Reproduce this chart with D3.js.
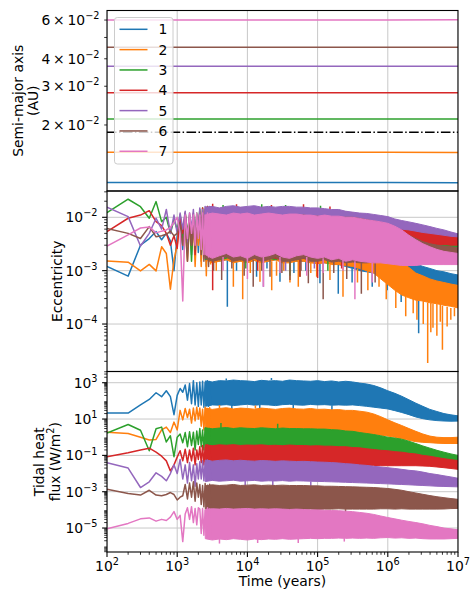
<!DOCTYPE html>
<html><head><meta charset="utf-8">
<script src="https://cdn.jsdelivr.net/npm/d3@7/dist/d3.min.js"></script>
<style>html,body{margin:0;padding:0;background:#fff}svg{display:block}</style>
</head><body>
<svg id="chart" width="476" height="596" font-family="DejaVu Sans, sans-serif"></svg>
<script>
// ---------------- DATA ----------------
const planets = ["1","2","3","4","5","6","7"];
const planetColors = ["#1f77b4","#ff7f0e","#2ca02c","#d62728","#9467bd","#8c564b","#e377c2"];

// semi-major axis (AU)
const axisTimes = [1e2, 1e6, 1e7];
const semiMajor1 = [0.01095, 0.01095, 0.01092];
const semiMajor2 = [0.01504, 0.01504, 0.01500];
const semiMajor3 = [0.0213, 0.0213, 0.0213];
const semiMajor4 = [0.0280, 0.0280, 0.0280];
const semiMajor5 = [0.0370, 0.0370, 0.0370];
const semiMajor6 = [0.0451, 0.0451, 0.0451];
const semiMajor7 = [0.0600, 0.0600, 0.0602];
const referenceSemiMajor = 0.01854;

// early (resolved) part of the evolution, years
const earlyTimes = [100,200,300,400,500,600,700,800,900,1000,1100,1200,1300,1400,1500,1600,1700,1800,1900,2000,2100,2200,2300,2400,2500,2600,2700,2800,2900,3000];
const eccEarly1 = [1.2e-3,7.9e-4,3.0e-3,4.0e-3,5.4e-3,3.8e-3,5.0e-3,3.6e-3,1.0e-3,4.5e-3,8e-3,2.5e-3,9e-3,3e-3,1.0e-2,2e-3,8e-3,3.5e-3,1.1e-2,2.2e-3,9e-3,1.5e-3,1.0e-2,2e-3,8e-3,1.2e-3,9.5e-3,2.5e-3,1.0e-2,1.8e-3];
const eccEarly2 = [1.52e-3,1.44e-3,9.9e-4,1.31e-3,9.9e-4,2.8e-3,2.1e-3,4.5e-4,1.6e-3,3.0e-3,1.0e-2,3e-3,8e-3,1.5e-3,9e-3,2.5e-3,1.1e-2,1.2e-3,7e-3,3e-3,8e-3,1.2e-3,1.0e-2,2e-3,9e-3,8e-4,1.0e-2,1.5e-3,9e-3,1.3e-3];
const eccEarly3 = [1.22e-2,2.18e-2,1.58e-2,9.6e-3,1.97e-2,8.3e-3,1.0e-2,5e-3,9e-3,6e-3,1.1e-2,4e-3,1.2e-2,5e-3,1.1e-2,1.5e-3,1.0e-2,4e-3,1.2e-2,6e-3,1.4e-2,3e-3,1.5e-2,2.5e-3,1.3e-2,4e-3,1.6e-2,2e-3,1.4e-2,3e-3];
const eccEarly4 = [5.4e-3,9.6e-3,1.1e-2,1.33e-2,8.3e-3,7e-3,5e-3,3e-3,4.5e-3,2.6e-3,1.1e-2,5e-3,1.2e-2,4e-3,1.0e-2,3e-3,1.2e-2,2e-3,9e-3,5e-3,1.3e-2,2.5e-3,1.5e-2,3e-3,1.4e-2,2e-3,1.6e-2,3.5e-3,1.4e-2,2.5e-3];
const eccEarly5 = [1.55e-2,1.03e-2,2.9e-3,5e-3,9.6e-3,6e-3,1.4e-2,5e-3,1.1e-2,5e-3,1.2e-2,6e-3,1.3e-2,3.5e-3,1.2e-2,6e-3,1.4e-2,3e-3,1.1e-2,6e-3,1.5e-2,3e-3,1.4e-2,4e-3,1.6e-2,2.5e-3,1.5e-2,3.5e-3,1.6e-2,3e-3];
const eccEarly6 = [6.2e-3,5e-3,4.0e-3,6.7e-3,4.3e-3,4.5e-3,4.8e-3,5.5e-3,4.5e-3,5e-3,8e-3,3e-3,7e-3,1.5e-3,9e-3,3e-3,8e-3,2.5e-3,1.0e-2,4e-3,1.0e-2,2e-3,1.1e-2,1.5e-3,9e-3,2.5e-3,1.1e-2,1.2e-3,1.0e-2,2e-3];
const eccEarly7 = [2.9e-3,4.7e-3,6.3e-3,6.6e-3,5.1e-3,5.5e-3,5.8e-3,6.5e-3,8e-3,1.0e-2,5e-3,2.7e-4,1.1e-2,4e-3,1.2e-2,5e-3,1.1e-2,3e-3,1.2e-2,4e-3,1.1e-2,2.5e-3,1.2e-2,2e-3,1.1e-2,3e-3,1.2e-2,1.8e-3,1.15e-2,2.2e-3];

const tidalEarly1 = [21.5,21.5,60,120,280,170,360,170,17.4,200,480,300,750,110,900,70,1300,60,1000,50,1100,60,1200,45,1000,70,1300,50,1150,55];
const tidalEarly2 = [1.9,1.6,1.0,0.7,0.75,2.5,3.6,1.8,6.8,2.5,30,9,38,12,35,6,40,8,45,10,40,4,35,2.5,45,6,38,3,42,2.5];
const tidalEarly3 = [1.7,5.0,2.4,0.18,2.9,3.6,0.55,1.2,0.085,1.0,1.5,0.5,1.8,0.3,2.0,0.35,1.9,0.2,2.2,0.4,3,0.3,2.5,0.2,3.2,0.4,2.8,0.25,3,0.3];
const tidalEarly4 = [0.085,0.14,0.2,0.25,0.15,0.09,0.05,0.014,0.03,0.08,0.18,0.05,0.22,0.04,0.2,0.05,0.25,0.03,0.2,0.06,0.3,0.04,0.35,0.03,0.28,0.05,0.38,0.035,0.32,0.04];
const tidalEarly5 = [0.04,0.02,1.7e-3,3.5e-3,0.011,7e-3,4e-3,0.01,0.03,0.01,0.06,5e-3,0.03,3e-3,0.04,4e-3,0.03,2e-3,0.035,5e-3,0.045,5e-3,0.05,4e-3,0.04,6e-3,0.055,4.5e-3,0.05,5e-3];
const tidalEarly6 = [1.35e-3,8e-4,6.5e-4,1.2e-3,6.5e-4,6e-4,7e-4,9e-4,7e-4,3.5e-4,5e-4,6e-4,2.5e-3,4e-4,3e-3,5e-4,3.5e-3,3e-4,3e-3,5e-4,2.5e-3,2e-4,2.2e-3,1.5e-4,2.8e-3,2.5e-4,2.3e-3,1.2e-4,2.6e-3,2e-4];
const tidalEarly7 = [9e-6,1.8e-5,3.2e-5,3.6e-5,2.4e-5,3e-5,2.6e-5,4e-5,8e-5,3e-5,5e-5,1.8e-6,6e-5,1.3e-4,3e-5,1.5e-4,2e-5,1.2e-4,1.5e-5,1.3e-4,1.1e-4,5e-6,1.2e-4,4e-6,1e-4,6e-6,1.3e-4,3e-6,1.1e-4,4e-6];

// fast-oscillation part: upper / lower envelope read at these times (years)
const bandTimes = [2510,3160,3980,5010,6310,7940,1e4,1.26e4,1.58e4,2e4,2.51e4,3.16e4,3.98e4,5.01e4,6.31e4,7.94e4,1e5,1.26e5,1.58e5,2e5,2.51e5,3.16e5,3.98e5,5.01e5,6.31e5,7.94e5,1e6,1.26e6,1.58e6,2e6,2.51e6,3.16e6,3.98e6,5.01e6,6.31e6,7.94e6,1e7];

const eccHigh1 = [9.5e-3,1.0e-2,9.5e-3,1.0e-2,9.5e-3,1.0e-2,9.5e-3,1.0e-2,9.5e-3,1.0e-2,9.5e-3,1.0e-2,9.5e-3,1.0e-2,9.5e-3,9.5e-3,9e-3,9e-3,8.5e-3,8.5e-3,8e-3,7.5e-3,7e-3,6.5e-3,6e-3,5e-3,4e-3,3e-3,1.6e-3,1.4e-3,1.35e-3,1.2e-3,1.1e-3,1.0e-3,9.5e-4,8.8e-4,8.3e-4];
const eccLow1  = [1.6e-3,1.5e-3,1.5e-3,1.6e-3,1.5e-3,1.5e-3,1.5e-3,1.55e-3,1.5e-3,1.5e-3,1.6e-3,1.5e-3,1.5e-3,1.5e-3,1.5e-3,1.45e-3,1.4e-3,1.4e-3,1.35e-3,1.3e-3,1.2e-3,1.1e-3,1.0e-3,9.5e-4,9e-4,8.5e-4,8e-4,7.5e-4,7e-4,6.8e-4,6.5e-4,6.3e-4,6e-4,5.8e-4,5.6e-4,5.5e-4,5.4e-4];
const eccHigh2 = [9e-3,1.0e-2,9e-3,1.0e-2,9e-3,1.0e-2,9e-3,1.0e-2,9e-3,1.0e-2,9e-3,1.0e-2,9e-3,9.5e-3,9e-3,9e-3,8.5e-3,8.5e-3,8e-3,8e-3,7.5e-3,7e-3,6.5e-3,6e-3,5.5e-3,4.5e-3,3.5e-3,2.2e-3,1.4e-3,1.15e-3,9e-4,8e-4,7e-4,6.4e-4,6e-4,5.6e-4,5.3e-4];
const eccLow2  = [1.6e-3,1.4e-3,1.5e-3,1.6e-3,1.4e-3,1.5e-3,1.4e-3,1.55e-3,1.4e-3,1.5e-3,1.6e-3,1.4e-3,1.4e-3,1.5e-3,1.5e-3,1.4e-3,1.35e-3,1.4e-3,1.3e-3,1.3e-3,1.25e-3,1.2e-3,1.1e-3,1.0e-3,9e-4,7e-4,5.5e-4,4.3e-4,3.5e-4,3.1e-4,2.8e-4,2.7e-4,2.5e-4,2.4e-4,2.25e-4,2.15e-4,2.0e-4];
const eccHigh3 = [1.4e-2,1.5e-2,1.45e-2,1.45e-2,1.4e-2,1.5e-2,1.45e-2,1.45e-2,1.4e-2,1.5e-2,1.45e-2,1.45e-2,1.4e-2,1.45e-2,1.4e-2,1.4e-2,1.35e-2,1.35e-2,1.3e-2,1.3e-2,1.25e-2,1.2e-2,1.1e-2,1.05e-2,1e-2,9e-3,8.5e-3,7.5e-3,6.5e-3,5.8e-3,5e-3,4.5e-3,4.2e-3,4e-3,3.8e-3,3.7e-3,3.6e-3];
const eccLow3  = [1.6e-3,1.8e-3,1.6e-3,1.7e-3,1.9e-3,1.6e-3,1.7e-3,1.8e-3,1.6e-3,1.7e-3,1.6e-3,1.8e-3,1.7e-3,1.6e-3,1.7e-3,1.7e-3,1.6e-3,1.7e-3,1.7e-3,1.8e-3,1.8e-3,1.9e-3,2e-3,2e-3,2e-3,2.1e-3,2.1e-3,2.1e-3,2.1e-3,2.1e-3,2.1e-3,2.1e-3,2.1e-3,2.1e-3,2.1e-3,2.1e-3,2.1e-3];
const eccHigh4 = [1.5e-2,1.45e-2,1.45e-2,1.5e-2,1.45e-2,1.5e-2,1.45e-2,1.45e-2,1.5e-2,1.45e-2,1.45e-2,1.5e-2,1.45e-2,1.45e-2,1.45e-2,1.4e-2,1.4e-2,1.35e-2,1.35e-2,1.3e-2,1.25e-2,1.2e-2,1.15e-2,1.1e-2,1.05e-2,1e-2,9.5e-3,8.5e-3,7.8e-3,7e-3,6.5e-3,6e-3,5.6e-3,5.2e-3,4.9e-3,4.6e-3,4.4e-3];
const eccLow4  = [1.8e-3,1.6e-3,1.7e-3,1.9e-3,1.7e-3,1.6e-3,1.8e-3,1.7e-3,1.6e-3,1.8e-3,1.7e-3,1.6e-3,1.8e-3,1.7e-3,1.7e-3,1.7e-3,1.8e-3,1.8e-3,1.9e-3,2e-3,2.2e-3,2.5e-3,2.6e-3,2.8e-3,2.9e-3,3e-3,3.1e-3,3.2e-3,3.3e-3,3.3e-3,3.3e-3,3.2e-3,3.2e-3,3.1e-3,3.1e-3,3.0e-3,3.0e-3];
const eccHigh5 = [1.55e-2,1.6e-2,1.5e-2,1.6e-2,1.65e-2,1.55e-2,1.6e-2,1.65e-2,1.55e-2,1.6e-2,1.55e-2,1.6e-2,1.6e-2,1.55e-2,1.55e-2,1.5e-2,1.5e-2,1.45e-2,1.4e-2,1.4e-2,1.3e-2,1.25e-2,1.2e-2,1.18e-2,1.13e-2,1.08e-2,1.03e-2,9.3e-3,8.7e-3,8.2e-3,7.7e-3,7.2e-3,6.7e-3,6.2e-3,5.8e-3,5.3e-3,4.9e-3];
const eccLow5  = [2.2e-3,2e-3,2.1e-3,2e-3,2.2e-3,2.1e-3,2e-3,2.1e-3,2.2e-3,2e-3,2.1e-3,2e-3,2.2e-3,2.1e-3,2.2e-3,2.2e-3,2.3e-3,2.5e-3,2.7e-3,2.8e-3,3e-3,3.2e-3,3.5e-3,4e-3,5e-3,6e-3,6.5e-3,6.3e-3,6e-3,5.8e-3,5.5e-3,5.2e-3,5e-3,4.8e-3,4.6e-3,4.4e-3,4.3e-3];
const eccHigh6 = [1.1e-2,1.05e-2,1.1e-2,1.05e-2,1.1e-2,1.05e-2,1.1e-2,1.05e-2,1.1e-2,1.05e-2,1.1e-2,1.05e-2,1.1e-2,1.05e-2,1.1e-2,1.05e-2,1.05e-2,1.0e-2,1.0e-2,1.0e-2,1.0e-2,1.0e-2,9.5e-3,9e-3,8.5e-3,8e-3,7.5e-3,6.5e-3,5.5e-3,4.6e-3,4e-3,3.5e-3,3.2e-3,3e-3,2.9e-3,2.8e-3,2.7e-3];
const eccLow6  = [1.7e-3,1.5e-3,1.6e-3,1.8e-3,1.5e-3,1.6e-3,1.5e-3,1.7e-3,1.5e-3,1.6e-3,1.8e-3,1.5e-3,1.5e-3,1.6e-3,1.7e-3,1.5e-3,1.5e-3,1.6e-3,1.45e-3,1.5e-3,1.4e-3,1.45e-3,1.4e-3,1.4e-3,1.45e-3,1.5e-3,1.55e-3,1.6e-3,1.65e-3,1.7e-3,1.7e-3,1.7e-3,1.65e-3,1.65e-3,1.6e-3,1.6e-3,1.6e-3];
const eccHigh7 = [1.1e-2,1.2e-2,1.15e-2,1.1e-2,1.2e-2,1.15e-2,1.2e-2,1.1e-2,1.15e-2,1.2e-2,1.15e-2,1.1e-2,1.15e-2,1.15e-2,1.1e-2,1.1e-2,1.05e-2,1.1e-2,1.05e-2,1.05e-2,1.0e-2,1.0e-2,9.5e-3,9e-3,8.6e-3,8.2e-3,7.7e-3,6.8e-3,5.8e-3,4.6e-3,3.8e-3,3.2e-3,2.8e-3,2.5e-3,2.3e-3,2.2e-3,2.1e-3];
const eccLow7  = [2.0e-3,1.7e-3,1.9e-3,2.1e-3,1.8e-3,1.9e-3,1.7e-3,2.0e-3,1.8e-3,1.9e-3,2.1e-3,1.8e-3,1.7e-3,1.9e-3,2.0e-3,1.8e-3,1.7e-3,1.8e-3,1.6e-3,1.7e-3,1.5e-3,1.6e-3,1.5e-3,1.45e-3,1.4e-3,1.4e-3,1.35e-3,1.3e-3,1.25e-3,1.25e-3,1.25e-3,1.3e-3,1.3e-3,1.3e-3,1.3e-3,1.3e-3,1.3e-3];

// isolated excursions (deep minima / high maxima): [time, from, to]
const eccSpikes1 = [[5180,1.6e-3,2.1e-4],[7000,1.6e-3,1.0e-3],[13500,1.6e-3,7.7e-4],[19000,1.6e-3,1.1e-3],[29100,1.6e-3,6.2e-4],[46000,1.6e-3,9e-4],[68000,1.5e-3,1.0e-3],[1.08e5,1.5e-3,5.8e-4],[1.97e5,1.3e-3,3.7e-4],[3.1e5,1.1e-3,6e-4],[6.0e5,9e-4,5e-4],[9.8e5,8e-4,4.3e-4],[1.55e6,7e-4,2.6e-4],[2.2e6,6.5e-4,3.5e-4],[2.75e6,6.3e-4,6.7e-5],[3.5e6,6e-4,3e-4],[5.5e6,5.6e-4,3.5e-4]];
const eccSpikes2 = [[3600,1.5e-3,1e-3],[6310,1.5e-3,5e-4],[8570,1.5e-3,2.9e-4],[11000,1.5e-3,9e-4],[15100,1.5e-3,6.2e-4],[22200,1.5e-3,4.3e-4],[26000,1.5e-3,8e-4],[33000,1.5e-3,1e-3],[40400,1.5e-3,6e-4],[53100,1.5e-3,5e-4],[80000,1.4e-3,9e-4],[97000,1.4e-3,7.7e-4],[1.5e5,1.3e-3,6.7e-4],[2.3e5,1.25e-3,3.25e-4],[3.7e5,1.1e-3,6e-4],[5.2e5,1e-3,4.3e-4],[7.5e5,8e-4,5e-4],[9.5e5,6e-4,2.9e-4],[1.3e6,4.5e-4,2e-4],[1.8e6,3.5e-4,1.4e-4],[2.3e6,3e-4,1.6e-4],[2.6e6,2.8e-4,1.2e-4],[3.2e6,2.7e-4,1e-4],[3.7e6,2.5e-4,1.86e-5],[4.1e6,2.5e-4,7e-5],[4.4e6,2.4e-4,8.5e-5],[5.0e6,2.4e-4,6e-5],[5.6e6,2.3e-4,1.1e-4],[6.0e6,2.2e-4,3.3e-5],[7.0e6,2.1e-4,9e-5],[7.9e6,2e-4,1.2e-4],[8.9e6,2e-4,1.4e-4]];
const eccSpikes3 = [[4500,1.4e-2,1.7e-2],[1.6e4,1.4e-2,1.75e-2],[3.5e4,1.4e-2,1.7e-2],[1.1e5,1.3e-2,1.65e-2],[9500,1.7e-3,1.1e-3],[40400,1.7e-3,8e-4],[56100,1.7e-3,7.7e-4],[1.4e5,1.7e-3,1.0e-3]];
const eccSpikes4 = [[3200,1.4e-2,1.8e-2],[7000,1.4e-2,1.75e-2],[2.2e4,1.4e-2,1.7e-2],[6.3e4,1.4e-2,1.75e-2],[1.5e5,1.3e-2,1.6e-2],[3200,1.7e-3,4.3e-4],[14000,1.7e-3,1.0e-3],[56100,1.7e-3,7.7e-4],[1.0e5,1.7e-3,7.3e-4],[2.2e5,1.9e-3,1.1e-3]];
const eccSpikes5 = [[16900,2e-3,5e-4],[35000,2e-3,1.0e-3],[9e4,2e-3,1.1e-3]];
const eccSpikes6 = [[3300,1.6e-3,1.0e-3],[4300,1.6e-3,6.7e-4],[6000,1.6e-3,1.1e-3],[9000,1.6e-3,8e-4],[12100,1.6e-3,5e-4],[16000,1.6e-3,1.0e-3],[21000,1.6e-3,7.7e-4],[31000,1.6e-3,9e-4],[40400,1.6e-3,6.7e-4],[58000,1.6e-3,1.0e-3],[73800,1.6e-3,5.8e-4],[1.2e5,1.6e-3,2.9e-4],[1.7e5,1.5e-3,9e-4],[2.6e5,1.5e-3,7e-4],[4.2e5,1.5e-3,3.7e-4],[6.6e5,1.5e-3,6e-4]];
const eccSpikes7 = [[4500,1.8e-3,1.0e-3],[1e4,1.8e-3,7e-4],[16900,1.8e-3,5e-4],[29100,1.8e-3,9e-4],[7e4,1.8e-3,8e-4],[1.2e5,1.7e-3,9e-4],[2.3e5,1.6e-3,1.0e-3],[3.4e5,1.5e-3,2.9e-4],[6e5,1.4e-3,6e-4]];

const tidalHigh1 = [1250,1100,1300,1250,1400,1300,1250,1150,1350,1250,1300,1200,1400,1300,1250,1200,1300,1150,1250,1100,1200,1100,950,850,700,520,360,260,180,115,75,50,34,26,20,17,15];
const tidalLow1  = [50,60,58,62,55,60,65,58,62,60,55,62,65,60,58,64,60,62,58,60,58,60,55,50,45,40,36,29,23,17.5,13,10.5,9,8.2,7.8,7.6,7.7];
const tidalHigh2 = [40,34,38,42,36,40,38,35,40,37,34,38,40,36,35,38,34,35,32,33,30,30,27,24,19,13.5,9,6.2,4.4,3,2.1,1.5,1.15,1.0,0.95,0.95,1.0];
const tidalLow2  = [1.8,2.0,1.9,1.8,2.0,2.1,1.9,1.8,2.0,1.9,2.0,1.9,1.8,2.0,1.9,1.9,1.8,1.9,1.8,1.8,1.7,1.7,1.6,1.5,1.4,1.3,1.15,1.0,0.82,0.67,0.57,0.52,0.5,0.47,0.45,0.45,0.45];
const tidalHigh3 = [3.3,2.9,3.2,3.4,3.0,3.3,3.1,3.0,3.3,3.1,2.9,3.2,3.0,3.0,2.9,2.9,2.8,2.8,2.6,2.5,2.2,2.1,1.8,1.6,1.4,1.2,1.0,0.9,0.78,0.6,0.45,0.33,0.25,0.19,0.15,0.12,0.1];
const tidalLow3  = [0.13,0.12,0.13,0.13,0.14,0.13,0.13,0.13,0.14,0.13,0.14,0.13,0.14,0.13,0.14,0.13,0.14,0.13,0.14,0.14,0.14,0.14,0.13,0.13,0.12,0.12,0.11,0.1,0.09,0.08,0.066,0.057,0.05,0.045,0.04,0.037,0.035];
const tidalHigh4 = [0.38,0.34,0.38,0.36,0.39,0.35,0.37,0.36,0.38,0.35,0.36,0.34,0.37,0.35,0.35,0.33,0.34,0.32,0.32,0.3,0.3,0.27,0.26,0.23,0.21,0.19,0.18,0.16,0.15,0.13,0.12,0.1,0.09,0.076,0.066,0.058,0.052];
const tidalLow4  = [0.032,0.029,0.031,0.03,0.032,0.03,0.031,0.03,0.032,0.03,0.031,0.03,0.032,0.03,0.031,0.03,0.031,0.03,0.03,0.03,0.03,0.029,0.029,0.028,0.028,0.027,0.027,0.027,0.027,0.027,0.027,0.026,0.025,0.023,0.021,0.019,0.017];
const tidalHigh5 = [0.055,0.048,0.053,0.056,0.05,0.054,0.05,0.048,0.052,0.05,0.047,0.05,0.048,0.046,0.047,0.045,0.043,0.042,0.04,0.038,0.035,0.033,0.03,0.028,0.025,0.023,0.021,0.019,0.017,0.015,0.014,0.012,0.01,0.0088,0.0075,0.0065,0.0055];
const tidalLow5  = [3.6e-3,4.2e-3,3.8e-3,4e-3,4.3e-3,3.8e-3,4e-3,4.2e-3,3.8e-3,4e-3,3.9e-3,4.1e-3,3.8e-3,4e-3,3.9e-3,3.8e-3,3.7e-3,3.6e-3,3.5e-3,3.4e-3,3.3e-3,3.2e-3,3.1e-3,3e-3,2.9e-3,2.8e-3,2.7e-3,2.6e-3,2.5e-3,2.4e-3,2.3e-3,2.2e-3,2.1e-3,2.0e-3,1.95e-3,1.9e-3,1.85e-3];
const tidalHigh6 = [2.1e-3,2.4e-3,2.2e-3,2.3e-3,2.5e-3,2.2e-3,2.3e-3,2.4e-3,2.2e-3,2.3e-3,2.2e-3,2.3e-3,2.2e-3,2.2e-3,2.2e-3,2.1e-3,2.1e-3,2.0e-3,2.0e-3,1.95e-3,1.9e-3,1.85e-3,1.8e-3,1.75e-3,1.7e-3,1.6e-3,1.5e-3,1.35e-3,1.2e-3,1e-3,8.5e-4,7.2e-4,6.1e-4,5.3e-4,4.7e-4,4.2e-4,3.8e-4];
const tidalLow6  = [1.1e-4,9.5e-5,1.05e-4,1e-4,1.1e-4,1e-4,9.5e-5,1.05e-4,1e-4,1.05e-4,1e-4,1.05e-4,1e-4,1.05e-4,1.05e-4,1.1e-4,1.05e-4,1.1e-4,1.1e-4,1.15e-4,1.1e-4,1.1e-4,1.1e-4,1.1e-4,1.1e-4,1.15e-4,1.15e-4,1.1e-4,1.15e-4,1.1e-4,1.1e-4,1.1e-4,1.1e-4,1.1e-4,1.12e-4,1.18e-4,1.2e-4];
const tidalHigh7 = [1.05e-4,1.15e-4,1.1e-4,1.2e-4,1.1e-4,1.15e-4,1.2e-4,1.1e-4,1.15e-4,1.1e-4,1.15e-4,1.1e-4,1.05e-4,1.1e-4,1.05e-4,1.0e-4,1.0e-4,9.5e-5,9.2e-5,9e-5,8.5e-5,8e-5,7.2e-5,6.5e-5,5.6e-5,4.6e-5,3.8e-5,3.2e-5,2.7e-5,2.3e-5,2e-5,1.7e-5,1.4e-5,1.2e-5,1e-5,9e-6,8e-6];
const tidalLow7  = [2.6e-6,2.2e-6,2.5e-6,2.3e-6,2.6e-6,2.4e-6,2.2e-6,2.5e-6,2.3e-6,2.5e-6,2.4e-6,2.6e-6,2.4e-6,2.5e-6,2.6e-6,2.7e-6,2.6e-6,2.7e-6,2.7e-6,2.8e-6,2.7e-6,2.8e-6,2.7e-6,2.8e-6,2.7e-6,2.9e-6,3e-6,2.8e-6,2.9e-6,2.7e-6,2.8e-6,2.6e-6,2.5e-6,2.5e-6,2.5e-6,2.6e-6,2.7e-6];

const tidalSpikes1 = [[6000,60,22],[1.5e4,60,25],[4.5e4,60,28],[1.6e5,58,30],[5000,1300,1700],[2.2e4,1400,1800]];
const tidalSpikes2 = [[3500,1.9,0.9],[1.1e4,1.9,1.0],[7e4,1.8,1.1],[4000,38,60],[1.3e4,38,55]];
const tidalSpikes3 = [[4200,3,6],[2.7e4,3,5.5]];
const tidalSpikes4 = [[3300,0.03,0.015],[2e4,0.03,0.017]];
const tidalSpikes5 = [[9300,4e-3,1.1e-3],[2.3e4,4e-3,1.2e-3],[8e4,3.8e-3,1.5e-3]];
const tidalSpikes6 = [[12000,1e-4,5.6e-5],[32000,1e-4,5.6e-5],[2.5e5,1.1e-4,6e-5]];
const tidalSpikes7 = [[4000,2.5e-6,1.4e-6],[14000,2.5e-6,1.5e-6],[53000,2.5e-6,1.5e-6],[2.4e5,2.7e-6,1.8e-6]];

// ticks
const xTickValues = [1e2,1e3,1e4,1e5,1e6,1e7];
const xTickExps = [2,3,4,5,6,7];
const aTickValues = [0.02,0.03,0.04,0.06];
const aTickMantissas = ["2","3","4","6"];
const eTickValues = [1e-2,1e-3,1e-4];
const eTickExps = [-2,-3,-4];
const fTickValues = [1e3,1e1,1e-1,1e-3,1e-5];
const fTickExps = [3,1,-1,-3,-5];

// ---------------- LAYOUT ----------------
const FS = 13.9;
const svg = d3.select("#chart");
const x = d3.scaleLog().domain([1e2,1e7]).range([107,458]);
const panels = [
  {top:10.5, bottom:191, domain:[0.01002,0.0663]},
  {top:191, bottom:371.5, domain:[1.29e-5,0.0311]},
  {top:371.5, bottom:552, domain:[4.8e-7,4140]}
];
panels.forEach(p => p.y = d3.scaleLog().domain(p.domain).range([p.bottom, p.top]));
const semiMajor = [semiMajor1,semiMajor2,semiMajor3,semiMajor4,semiMajor5,semiMajor6,semiMajor7];
const eccEarly = [eccEarly1,eccEarly2,eccEarly3,eccEarly4,eccEarly5,eccEarly6,eccEarly7];
const eccHigh = [eccHigh1,eccHigh2,eccHigh3,eccHigh4,eccHigh5,eccHigh6,eccHigh7];
const eccLow = [eccLow1,eccLow2,eccLow3,eccLow4,eccLow5,eccLow6,eccLow7];
const eccSpikes = [eccSpikes1,eccSpikes2,eccSpikes3,eccSpikes4,eccSpikes5,eccSpikes6,eccSpikes7];
const tidalEarly = [tidalEarly1,tidalEarly2,tidalEarly3,tidalEarly4,tidalEarly5,tidalEarly6,tidalEarly7];
const tidalHigh = [tidalHigh1,tidalHigh2,tidalHigh3,tidalHigh4,tidalHigh5,tidalHigh6,tidalHigh7];
const tidalLow = [tidalLow1,tidalLow2,tidalLow3,tidalLow4,tidalLow5,tidalLow6,tidalLow7];
const tidalSpikes = [tidalSpikes1,tidalSpikes2,tidalSpikes3,tidalSpikes4,tidalSpikes5,tidalSpikes6,tidalSpikes7];

const defs = svg.append("defs");
panels.forEach((p,i) => {
  defs.append("clipPath").attr("id","clip"+i).append("rect")
    .attr("x",x.range()[0]).attr("y",p.top).attr("width",x.range()[1]-x.range()[0]).attr("height",p.bottom-p.top);
});

function minorValues(domain){
  const out=[]; const lo=Math.floor(Math.log10(domain[0])), hi=Math.ceil(Math.log10(domain[1]));
  for(let n=lo;n<=hi;n++) for(let k=2;k<=9;k++){ const v=k*Math.pow(10,n); if(v>=domain[0]*1.0001 && v<=domain[1]/1.0001) out.push(v); }
  return out;
}
function sciText(g, px, py, anchor, mant, exp){
  const t = g.append("text").attr("x",px).attr("y",py).attr("text-anchor",anchor).attr("font-size",FS).attr("fill","#000");
  t.append("tspan").text(mant ? mant+"\u2009\u00d7\u200910" : "10");
  t.append("tspan").attr("font-size",FS*0.7).attr("dy",-FS*0.42).text(String(exp).replace("-","\u2212"));
  return t;
}

// grids
panels.forEach((p,i) => {
  const g = svg.append("g").attr("clip-path","url(#clip"+i+")");
  xTickValues.forEach(v => g.append("line").attr("x1",x(v)).attr("x2",x(v)).attr("y1",p.top).attr("y2",p.bottom)
     .attr("stroke","#c8c8c8").attr("stroke-width",1));
  const yMaj = i===1 ? eTickValues : (i===2 ? fTickValues : []);
  yMaj.forEach(v => g.append("line").attr("x1",x.range()[0]).attr("x2",x.range()[1]).attr("y1",p.y(v)).attr("y2",p.y(v))
     .attr("stroke","#c8c8c8").attr("stroke-width",1));
});

// panel 1: semi-major axis
{
  const p = panels[0];
  const g = svg.append("g").attr("clip-path","url(#clip0)");
  const line = d3.line().x(d=>x(d[0])).y(d=>p.y(d[1]));
  semiMajor.forEach((s,k) => {
    g.append("path").attr("d", line(axisTimes.map((t,j)=>[t,s[j]]))).attr("fill","none")
      .attr("stroke",planetColors[k]).attr("stroke-width",1.5);
  });
  g.append("path").attr("d", line([[1e2,referenceSemiMajor],[1e7,referenceSemiMajor]])).attr("fill","none")
    .attr("stroke","#000").attr("stroke-width",1.5).attr("stroke-dasharray","9.6,2.4,1.5,2.4");
}

// panels 2 & 3: early line + band + excursions
function drawEvolution(pi, early, high, low, spikes){
  const p = panels[pi];
  const g = svg.append("g").attr("clip-path","url(#clip"+pi+")");
  const line = d3.line().x(d=>x(d[0])).y(d=>p.y(d[1]));
  const area = d3.area().x(d=>x(d[0])).y0(d=>p.y(d[1])).y1(d=>p.y(d[2]));
  planets.forEach((name,k) => {
    const c = planetColors[k];
    const band = bandTimes.map((t,j)=>[t, low[k][j], high[k][j]]).filter(d=>d[1]!=null && d[2]!=null);
    g.append("path").attr("d", area(band)).attr("fill",c).attr("stroke",c).attr("stroke-width",1).attr("stroke-linejoin","round");
    g.append("path").attr("d", line(earlyTimes.map((t,j)=>[t, early[k][j]]))).attr("fill","none")
      .attr("stroke",c).attr("stroke-width",1.5).attr("stroke-linejoin","round");
    spikes[k].forEach(s => {
      g.append("line").attr("x1",x(s[0])).attr("x2",x(s[0])).attr("y1",p.y(s[1])).attr("y2",p.y(s[2]))
        .attr("stroke",c).attr("stroke-width",1.5);
    });
  });
}
drawEvolution(1, eccEarly, eccHigh, eccLow, eccSpikes);
drawEvolution(2, tidalEarly, tidalHigh, tidalLow, tidalSpikes);

// legend
{
  const lg = svg.append("g");
  lg.append("rect").attr("x",114.5).attr("y",17.5).attr("width",58.5).attr("height",146.5).attr("rx",2.8)
    .attr("fill","#fff").attr("fill-opacity",0.8).attr("stroke","#cccccc").attr("stroke-width",1);
  planets.forEach((name,k) => {
    const cy = 29.3 + k*20.33;
    lg.append("line").attr("x1",119.5).attr("x2",147.5).attr("y1",cy).attr("y2",cy).attr("stroke",planetColors[k]).attr("stroke-width",1.5);
    lg.append("text").attr("x",158.6).attr("y",cy+5).attr("font-size",FS).attr("fill","#000").text(name);
  });
}

// spines and ticks
const axG = svg.append("g");
panels.forEach((p,i) => {
  axG.append("rect").attr("x",x.range()[0]).attr("y",p.top).attr("width",x.range()[1]-x.range()[0]).attr("height",p.bottom-p.top)
    .attr("fill","none").attr("stroke","#000").attr("stroke-width",1.1);
  minorValues(p.domain).forEach(v => axG.append("line").attr("x1",107).attr("x2",107-2.8).attr("y1",p.y(v)).attr("y2",p.y(v))
    .attr("stroke","#000").attr("stroke-width",0.8));
});
aTickValues.forEach((v,j) => sciText(axG, 99.5, panels[0].y(v)+5, "end", aTickMantissas[j], -2));
eTickValues.forEach((v,j) => {
  const yy = panels[1].y(v);
  axG.append("line").attr("x1",107).attr("x2",107-4.9).attr("y1",yy).attr("y2",yy).attr("stroke","#000").attr("stroke-width",1.1);
  sciText(axG, 97.5, yy+5, "end", null, eTickExps[j]);
});
fTickValues.forEach((v,j) => {
  const yy = panels[2].y(v);
  axG.append("line").attr("x1",107).attr("x2",107-4.9).attr("y1",yy).attr("y2",yy).attr("stroke","#000").attr("stroke-width",1.1);
  sciText(axG, 97.5, yy+5, "end", null, fTickExps[j]);
});
minorValues(x.domain()).forEach(v => axG.append("line").attr("x1",x(v)).attr("x2",x(v)).attr("y1",552).attr("y2",552+2.8)
  .attr("stroke","#000").attr("stroke-width",0.8));
xTickValues.forEach((v,j) => {
  axG.append("line").attr("x1",x(v)).attr("x2",x(v)).attr("y1",552).attr("y2",552+4.9).attr("stroke","#000").attr("stroke-width",1.1);
  sciText(axG, x(v), 571, "middle", null, xTickExps[j]);
});

axG.append("text").attr("x",282.5).attr("y",585.5).attr("text-anchor","middle").attr("font-size",FS).text("Time (years)");
function vLabel(cx, cy, build){
  const t = axG.append("text").attr("transform",`translate(${cx},${cy}) rotate(-90)`).attr("text-anchor","middle")
    .attr("dominant-baseline","central").attr("font-size",FS);
  build(t);
}
vLabel(17.5, 100.75, t=>t.text("Semi-major axis"));
vLabel(32.5, 100.75, t=>t.text("(AU)"));
vLabel(56.5, 281.25, t=>t.text("Eccentricity"));
vLabel(39, 461.75, t=>t.text("Tidal heat"));
vLabel(55, 461.75, t=>{ t.append("tspan").text("flux (W/m"); t.append("tspan").attr("font-size",FS*0.7).attr("dy",-5).text("2"); t.append("tspan").attr("dy",5).text(")"); });
</script>
</body></html>
